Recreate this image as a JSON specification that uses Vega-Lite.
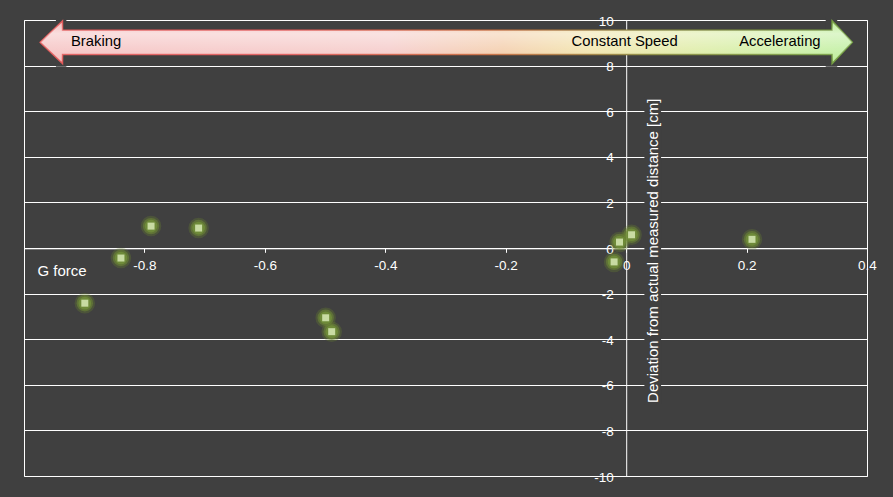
{
  "$schema": "https://vega.github.io/schema/vega-lite/v6.json",
  "width": 843,
  "height": 456,
  "autosize": {"type": "none"},
  "padding": {"left": 24, "right": 26, "top": 20, "bottom": 21},
  "background": "#404040",
  "config": {
    "font": "Liberation Sans",
    "view": {"stroke": "#ffffff", "strokeWidth": 1, "fill": "#404040"}
  },
  "datasets": {
    "points": [
      {"x": -0.789, "y": 0.96},
      {"x": -0.710, "y": 0.875},
      {"x": -0.839, "y": -0.44},
      {"x": -0.899, "y": -2.42},
      {"x": -0.499, "y": -3.06},
      {"x": -0.489, "y": -3.67},
      {"x": -0.011, "y": 0.26},
      {"x": 0.009, "y": 0.58},
      {"x": -0.020, "y": -0.61},
      {"x": 0.209, "y": 0.38}
    ],
    "arrow": [
      {"x": -0.973, "y": 9.02, "y2": 9.02},
      {"x": -0.9361, "y": 8.09, "y2": 9.96},
      {"x": -0.936, "y": 8.49, "y2": 9.55},
      {"x": 0.342, "y": 8.49, "y2": 9.55},
      {"x": 0.3421, "y": 8.09, "y2": 9.96},
      {"x": 0.3755, "y": 9.02, "y2": 9.02}
    ],
    "covers": [
      {"x": -0.947, "x2": -0.9296, "y": 7.95, "y2": 10.1},
      {"x": 0.3314, "x2": 0.3506, "y": 7.95, "y2": 10.1},
      {"x": 0.0303, "x2": 0.058, "y": -6.86, "y2": 6.6}
    ],
    "arrowLabels": [
      {"x": -0.922, "y": 9.02, "label": "Braking"},
      {"x": -0.0906, "y": 9.02, "label": "Constant Speed"},
      {"x": 0.1877, "y": 9.02, "label": "Accelerating"}
    ],
    "yTitle": [
      {"x": 0.0446, "y": -0.12, "label": "Deviation from actual measured distance [cm]"}
    ]
  },
  "encoding": {
    "x": {
      "field": "x",
      "type": "quantitative",
      "scale": {"domain": [-1, 0.4], "nice": false, "zero": false}
    },
    "y": {
      "field": "y",
      "type": "quantitative",
      "scale": {"domain": [-10, 10], "nice": false, "zero": false}
    }
  },
  "layer": [
    {
      "data": {"name": "covers"},
      "mark": {"type": "rect", "fill": "#404040", "stroke": null},
      "encoding": {
        "x": {
          "field": "x",
          "type": "quantitative",
          "axis": {
            "orient": "bottom",
            "offset": -227.7,
            "values": [-0.8, -0.6, -0.4, -0.2, 0, 0.2, 0.4],
            "grid": false,
            "domainColor": "#ffffff",
            "tickColor": "#ffffff",
            "tickSize": 4,
            "labelColor": "#ffffff",
            "labelFontSize": 13.5,
            "labelPadding": 6,
            "labelFlush": false,
            "labelOverlap": false,
            "labelExpr": "(datum.value < 0 ? '-' : '') + format(abs(datum.value), '.1~f')",
            "title": "G force",
            "titleX": 13,
            "titleY": 22,
            "titleAlign": "left",
            "titleBaseline": "middle",
            "titleFontWeight": "normal",
            "titleFontSize": 15,
            "titleColor": "#ffffff"
          }
        },
        "x2": {"field": "x2"},
        "y": {
          "field": "y",
          "type": "quantitative",
          "axis": {
            "orient": "left",
            "offset": -602.2,
            "values": [-10, -8, -6, -4, -2, 0, 2, 4, 6, 8, 10],
            "grid": true,
            "gridColor": "#ffffff",
            "gridOpacity": 1,
            "gridWidth": 1,
            "domainColor": "#ffffff",
            "ticks": false,
            "labelPadding": 13,
            "labelOffset": 1,
            "labelColor": "#ffffff",
            "labelFontSize": 13.5,
            "labelFlush": false,
            "labelOverlap": false,
            "labelExpr": "(datum.value < 0 ? '-' : '') + format(abs(datum.value), 'd')",
            "title": null
          }
        },
        "y2": {"field": "y2"}
      }
    },
    {
      "data": {"name": "arrow"},
      "mark": {
        "type": "area",
        "interpolate": "linear",
        "strokeWidth": 1.5,
        "fill": {
          "gradient": "linear",
          "x1": 0, "y1": 0, "x2": 1, "y2": 0,
          "stops": [
            {"offset": 0, "color": "#f4bcbc"},
            {"offset": 0.43, "color": "#f4c6c4"},
            {"offset": 0.57, "color": "#f2c8a2"},
            {"offset": 0.68, "color": "#f0e2a2"},
            {"offset": 0.82, "color": "#d8eb9c"},
            {"offset": 1, "color": "#b8ee96"}
          ]
        },
        "stroke": {
          "gradient": "linear",
          "x1": 0, "y1": 0, "x2": 1, "y2": 0,
          "stops": [
            {"offset": 0, "color": "#e05858"},
            {"offset": 0.3, "color": "#e05858"},
            {"offset": 0.55, "color": "#c86a3c"},
            {"offset": 0.75, "color": "#8a8a3c"},
            {"offset": 1, "color": "#72a040"}
          ]
        }
      },
      "encoding": {"y2": {"field": "y2"}}
    },
    {
      "data": {"name": "arrow"},
      "mark": {
        "type": "area",
        "interpolate": "linear",
        "fill": {
          "gradient": "linear",
          "x1": 0, "y1": 0, "x2": 0, "y2": 1,
          "stops": [
            {"offset": 0, "color": "rgba(255,255,255,0)"},
            {"offset": 0.3, "color": "rgba(255,255,255,0.5)"},
            {"offset": 1, "color": "rgba(255,255,255,0)"}
          ]
        }
      },
      "encoding": {"y2": {"field": "y2"}}
    },
    {
      "data": {"name": "arrowLabels"},
      "mark": {"type": "text", "align": "left", "baseline": "middle", "fontSize": 14.8, "color": "#000000"},
      "encoding": {"text": {"field": "label"}}
    },
    {
      "data": {"name": "yTitle"},
      "mark": {"type": "text", "align": "center", "baseline": "middle", "angle": 270, "fontSize": 15, "color": "#ffffff"},
      "encoding": {"text": {"field": "label"}}
    },
    {
      "data": {"name": "points"},
      "mark": {"type": "point", "shape": "circle", "filled": true, "size": 420, "color": "#6a8530", "opacity": 0.3}
    },
    {
      "data": {"name": "points"},
      "mark": {"type": "point", "shape": "circle", "filled": true, "size": 270, "color": "#6f8a34", "opacity": 0.55}
    },
    {
      "data": {"name": "points"},
      "mark": {"type": "point", "shape": "circle", "filled": true, "size": 160, "color": "#72903a", "opacity": 0.8}
    },
    {
      "data": {"name": "points"},
      "mark": {"type": "point", "shape": "square", "filled": true, "size": 49, "color": "#c8dba2", "opacity": 1}
    }
  ]
}
